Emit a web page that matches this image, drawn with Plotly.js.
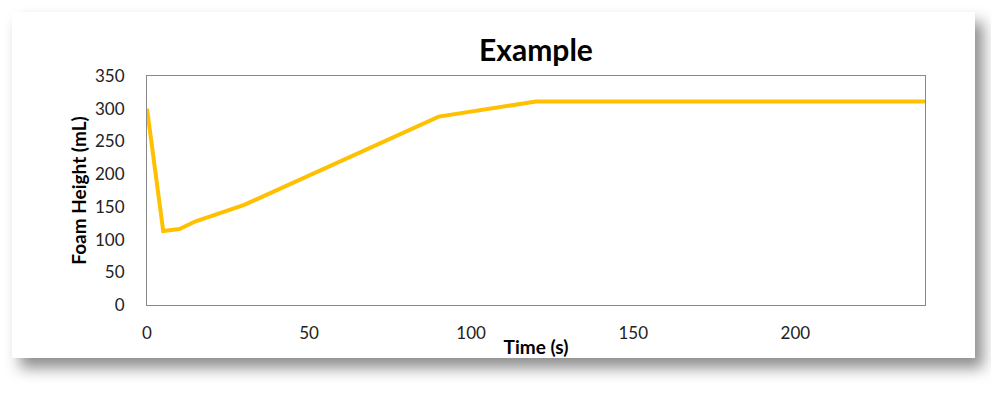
<!DOCTYPE html>
<html>
<head>
<meta charset="utf-8">
<script src="https://cdn.plot.ly/plotly-3.0.1.min.js"></script>
<style>
  html, body { margin: 0; padding: 0; background: #ffffff; width: 991px; height: 393px; overflow: hidden; }
  #chart { position: absolute; left: 12px; top: 12px; width: 963px; height: 346px;
           box-shadow: 8px 10px 14px rgba(0,0,0,0.45); background: #fff; }
</style>
</head>
<body>
<div id="chart"></div>
<script>
const timeS = [0, 5, 10, 15, 30, 60, 90, 120, 240];
const foamHeight = [300, 113, 116, 128, 153, 220, 288, 311, 311];
const xTicks = [0, 50, 100, 150, 200];
const yTicks = [0, 50, 100, 150, 200, 250, 300, 350];

const font = "Lato, 'Open Sans', sans-serif";

Plotly.newPlot('chart', [{
  x: timeS, y: foamHeight, type: 'scatter', mode: 'lines',
  line: {color: '#FFC000', width: 4}, hoverinfo: 'skip'
}], {
  width: 963, height: 346,
  margin: {l: 135, r: 50, t: 64, b: 53},
  paper_bgcolor: '#ffffff', plot_bgcolor: '#ffffff',
  showlegend: false,
  title: {text: '<b>Example</b>', x: 0.5, xref: 'paper', y: 1 - 38/346, yref: 'container', yanchor: 'middle',
          font: {family: font, size: 30, color: '#000000'}},
  xaxis: {range: [0, 240], tickvals: xTicks, ticktext: xTicks.map(String),
          showgrid: false, zeroline: false, showline: true, mirror: true, linecolor: '#888888', linewidth: 1,
          ticks: 'outside', ticklen: 13, tickcolor: 'rgba(0,0,0,0)',
          tickfont: {family: font, size: 17, color: '#222222'},
          title: {text: '<b>Time (s)</b>', font: {family: font, size: 19, color: '#000000'}, standoff: 0}},
  yaxis: {range: [0, 350], tickvals: yTicks, ticktext: yTicks.map(String),
          showgrid: false, zeroline: false, showline: true, mirror: true, linecolor: '#888888', linewidth: 1,
          ticks: 'outside', ticklen: 18, tickcolor: 'rgba(0,0,0,0)',
          tickfont: {family: font, size: 17, color: '#222222'},
          title: {text: '<b>Foam Height (mL)</b>', font: {family: font, size: 19, color: '#000000'}, standoff: 3}}
}, {staticPlot: true, displayModeBar: false});
</script>
</body>
</html>
